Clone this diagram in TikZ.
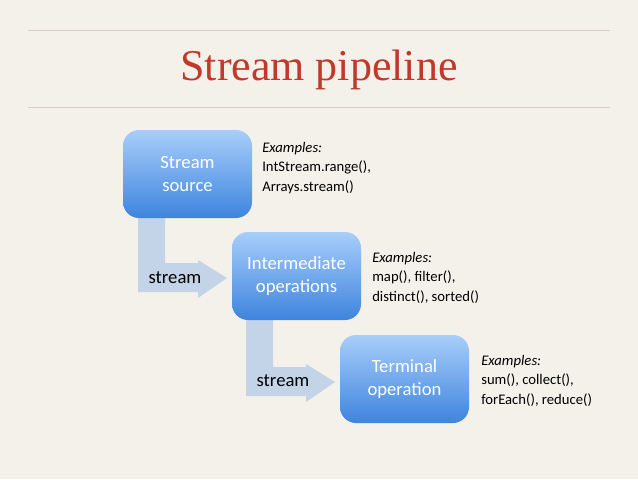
\documentclass[tikz,border=0pt]{standalone}
\usepackage{fontspec}
\setmainfont{Carlito}
\newfontfamily\titlefont{Liberation Serif}
\usetikzlibrary{positioning}
\definecolor{paper}{RGB}{244,241,234}
\definecolor{rule}{RGB}{214,208,198}
\definecolor{titlered}{RGB}{192,57,43}
\definecolor{boxtop}{RGB}{168,206,250}
\definecolor{boxbot}{RGB}{62,132,222}
\definecolor{flow}{RGB}{196,212,232}
\tikzset{
  stage/.style={rounded corners=12pt, minimum width=96.75pt, minimum height=66pt,
    top color=boxtop, bottom color=boxbot, draw=none, text=white,
    align=center, font=\fontsize{14}{17}\selectfont, inner sep=0pt},
  flowband/.style={fill=flow, draw=none},
  flowlabel/.style={font=\fontsize{14}{16}\selectfont, inner sep=0pt},
  examples/.style={anchor=north west, align=left, font=\fontsize{11}{14.5}\selectfont, inner sep=0pt}
}
\begin{document}
\begin{tikzpicture}[x=0.75pt,y=0.75pt,yscale=-1,xscale=1]
  % background
  \fill[paper] (0,0) rectangle (638,479);
  \useasboundingbox (0,0) rectangle (638,479);
  \draw[rule, line width=0.6pt] (28,30) -- (610,30);
  \draw[rule, line width=0.6pt] (28,107) -- (610,107);
  % title
  \node[text=titlered, font=\titlefont\fontsize{33}{38}\selectfont] (title) at (319,70) {Stream pipeline};

  % flow bands
  \fill[flowband] (138,218) -- (165,218) -- (165,263) -- (198,263) -- (198,260) -- (227,278)
    -- (198,298) -- (198,292) -- (138,292) -- cycle;
  \fill[flowband] (246,320) -- (273,320) -- (273,367) -- (306,367) -- (306,364) -- (335,382)
    -- (306,402) -- (306,396) -- (246,396) -- cycle;

  % stages
  \node[stage] (source) at (187.5,174) {Stream\\source};
  \node[stage] (inter) at (296.5,276) {Intermediate\\operations};
  \node[stage] (term) at (404.5,379) {Terminal\\operation};

  % labels
  \node[flowlabel] (lab1) at (175,278) {stream};
  \node[flowlabel] (lab2) at (283,381) {stream};
  \node[examples] (ex1) at (262,142)
    {\textit{Examples:}\\IntStream.range(),\\Arrays.stream()};
  \node[examples] (ex2) at (372,252)
    {\textit{Examples:}\\map(), filter(),\\distinct(), sorted()};
  \node[examples] (ex3) at (481,355)
    {\textit{Examples:}\\sum(), collect(),\\forEach(), reduce()};
\end{tikzpicture}
\end{document}
